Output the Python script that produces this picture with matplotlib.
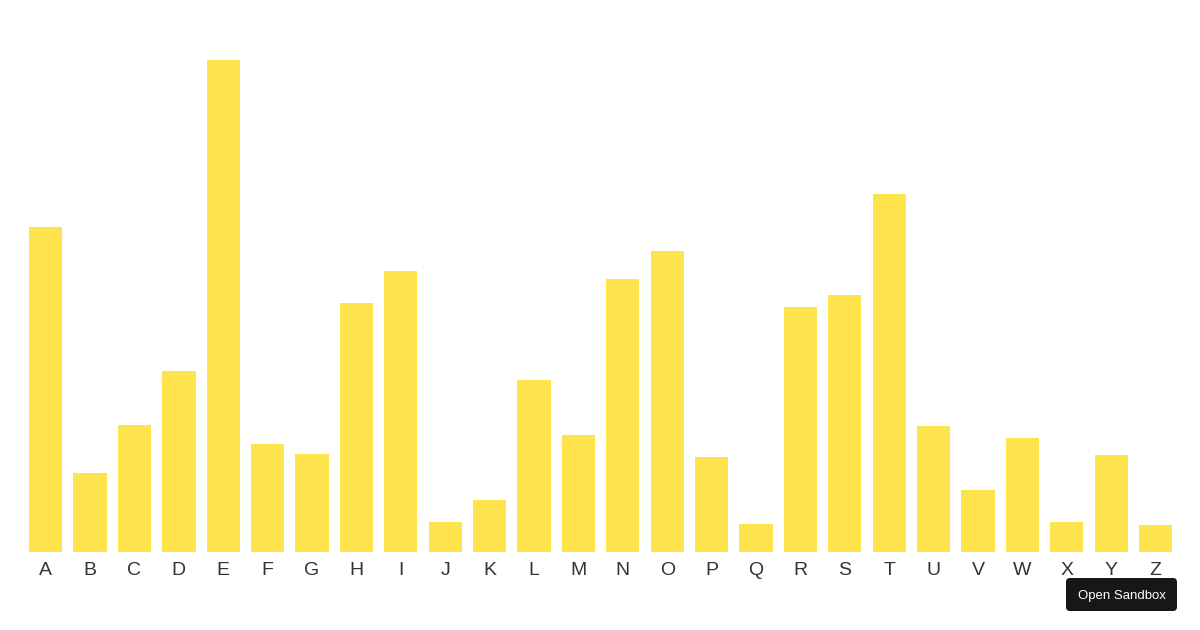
import matplotlib
matplotlib.use("Agg")
import matplotlib.pyplot as plt
from matplotlib.patches import FancyBboxPatch
from matplotlib.transforms import IdentityTransform

letters = list("ABCDEFGHIJKLMNOPQRSTUVWXYZ")
frequency = [0.08167, 0.01492, 0.02782, 0.04253, 0.12702, 0.02288, 0.02015,
             0.06094, 0.06966, 0.00153, 0.00772, 0.04025, 0.02520, 0.06749,
             0.07507, 0.01929, 0.00095, 0.05987, 0.06327, 0.09056, 0.02758,
             0.01030, 0.02450, 0.00150, 0.01974, 0.00074]

plt.rcParams['font.family'] = ['Liberation Sans', 'DejaVu Sans']

fig = plt.figure(figsize=(12, 6.3), dpi=100)
ax = fig.add_axes([0, 0.1243, 1, 0.7805])

y0 = -0.00643
x = list(range(len(letters)))
ax.bar(x, [v - y0 for v in frequency], bottom=y0, width=0.75, color='#FEE34D')
ax.set_ylim(y0, max(frequency))
ax.set_xlim(-1.0282, 25.999)

ax.set_xticks(x)
ax.set_xticklabels(letters, fontsize=14, color='#333333')
ax.tick_params(axis='x', length=0, pad=7.5)
ax.set_yticks([])
for s in ax.spines.values():
    s.set_visible(False)

btn = FancyBboxPatch((1066, 19), 111, 33, boxstyle="round,pad=0,rounding_size=4",
                     transform=IdentityTransform(), facecolor='#171717', edgecolor='none')
fig.add_artist(btn)
fig.text(1121.5, 34, "Open Sandbox", transform=IdentityTransform(), color='white',
         fontsize=9.5, ha='center', va='center')

fig.savefig("out.png", dpi=100)
